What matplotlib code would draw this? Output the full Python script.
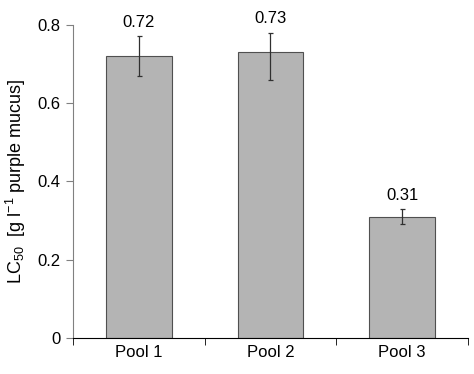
import matplotlib
matplotlib.use("Agg")
import matplotlib.pyplot as plt
import numpy as np

categories = ["Pool 1", "Pool 2", "Pool 3"]
values = [0.72, 0.73, 0.31]
err_low = [0.05, 0.07, 0.02]
err_high = [0.05, 0.05, 0.02]
labels = ["0.72", "0.73", "0.31"]
yticks = [0, 0.2, 0.4, 0.6, 0.8]
yticklabels = ["0", "0.2", "0.4", "0.6", "0.8"]

plt.rcParams['font.family'] = ['Liberation Sans', 'DejaVu Sans']
plt.rcParams['mathtext.fontset'] = 'custom'
plt.rcParams['mathtext.rm'] = 'Liberation Sans'
plt.rcParams['mathtext.it'] = 'Liberation Sans:italic'
fig = plt.figure(figsize=(4.74, 3.74), dpi=100)
ax = fig.add_axes([0.154, 0.096, 0.833, 0.838])

fs = 12
x = np.arange(len(categories))
ax.bar(x, values, width=0.5, color="#b4b4b4", edgecolor="#505050", linewidth=0.8, zorder=2)
ax.errorbar(x, values, yerr=[err_low, err_high], fmt="none", ecolor="#303030",
            elinewidth=0.9, capsize=1.8, capthick=0.9, zorder=3)
for xi, v, eh, lab in zip(x, values, err_high, labels):
    ax.text(xi, v + eh + 0.016, lab, ha="center", va="bottom", fontsize=fs)

ax.set_xlim(-0.5, 2.5)
ax.set_ylim(0, 0.8)
ax.set_yticks(yticks)
ax.set_yticklabels(yticklabels, fontsize=fs)
ax.set_xticks(x)
ax.set_xticklabels(categories, fontsize=fs)
ax.set_xticks([-0.5, 0.5, 1.5, 2.5], minor=True)
ax.tick_params(axis="x", which="major", length=0, pad=5)
ax.tick_params(axis="x", which="minor", length=5, direction="out", color="black")
ax.tick_params(axis="y", length=5, direction="out", color="#808080", pad=4)
ax.spines["top"].set_visible(False)
ax.spines["right"].set_visible(False)
ax.spines["left"].set_color("#808080")
ax.spines["bottom"].set_color("black")
ax.set_ylabel(r"LC$_{\mathrm{50}}$  [g l$^{\mathrm{-1}}$ purple mucus]", fontsize=13, labelpad=7)

fig.savefig("out.png", dpi=100)
